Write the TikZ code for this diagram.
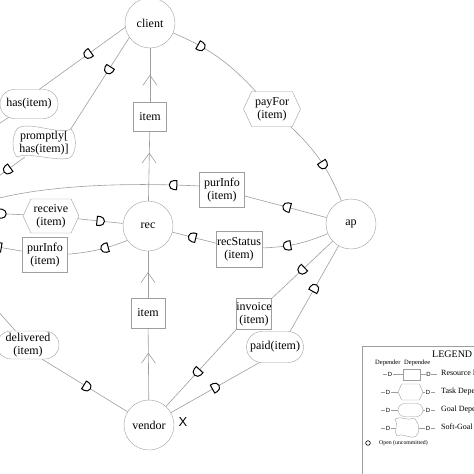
\documentclass[tikz,border=0pt]{standalone}
\usepackage{fontspec}
\setmainfont{Liberation Serif}
\setsansfont{Liberation Sans}
\usetikzlibrary{shapes.misc, shapes.symbols, decorations.markings}

\definecolor{linegray}{gray}{0.62}

\tikzset{
  actor/.style={circle, draw=linegray, minimum size=50pt, inner sep=0pt},
  resrc/.style={rectangle, draw=linegray, align=center, inner xsep=1pt, inner ysep=3pt},
  task/.style={signal, signal to=east and west, signal pointer angle=130, draw=linegray, align=center, inner xsep=1pt, inner ysep=2pt},
  goal/.style={rounded rectangle, draw=linegray, align=center, inner xsep=2pt, inner ysep=2pt},
  soft/.style={align=center, inner sep=2pt},
  link/.style={draw=linegray, line width=0.6pt},
  dm/.pic={\draw[black, line width=1pt, fill=white] (-3pt,-4.5pt) -- (-3pt,4.5pt) -- (0pt,4.5pt) arc[start angle=90, end angle=-90, radius=4.5pt] -- cycle;},
  flow/.pic={\draw[linegray, line width=0.6pt] (-10pt,-7pt) -- (0pt,0pt) -- (-10pt,7pt);},
  dep/.style={postaction={decorate, decoration={markings, mark=at position #1 with {\pic[transform shape]{dm};}}}},
  flw/.style={postaction={decorate, decoration={markings, mark=at position #1 with {\pic[transform shape]{flow};}}}},
  ldee/.style={font=\sffamily\fontsize{6}{6}\selectfont, inner sep=0.4pt, fill=white},
  ltext/.style={font=\fontsize{8}{8}\selectfont, anchor=west, inner sep=0pt},
}

\begin{document}
\begin{tikzpicture}[x=1pt, y=-1pt, font=\fontsize{12}{13}\selectfont]

  \useasboundingbox (0,0) rectangle (474,474);
  \clip (0,0) rectangle (474,474);

  % actors
  \node[actor] (client) at (150,23) {client};
  \node[actor] (rec) at (148,226) {rec};
  \node[actor] (ap) at (351,224) {ap};
  \node[actor] (vendor) at (149,425) {vendor};

  % dependums
  \node[resrc, minimum width=33pt, minimum height=29pt] (itemT) at (150,117) {item};
  \node[resrc, minimum width=34pt, minimum height=30pt] (itemB) at (148,313) {item};
  \node[resrc, minimum width=45pt, minimum height=35pt] (purT) at (222,190) {purInfo\\(item)};
  \node[resrc, minimum width=44pt, minimum height=36pt] (recStat) at (239,249) {recStatus\\(item)};
  \node[resrc, minimum width=45pt, minimum height=35pt] (purL) at (45,255) {purInfo\\(item)};
  \node[resrc, minimum width=34pt, minimum height=31pt, inner xsep=0pt] (invoice) at (254,314) {invoice\\(item)};
  \node[task, minimum width=57pt, minimum height=35pt] (payFor) at (272,109) {payFor\\(item)};
  \node[task, minimum width=56pt, minimum height=34pt] (receive) at (51,216) {receive\\(item)};
  \node[goal, minimum width=62pt, minimum height=29pt] (has) at (29,104) {has(item)};
  \node[goal, minimum width=61pt, minimum height=31pt] (paid) at (275,347) {paid(item)};
  \node[goal, minimum width=60pt, minimum height=28pt, inner ysep=1pt] (delivered) at (28,345) {delivered\\(item)};
  \node[soft] (prompt) at (44,143) {promptly[\\has(item)]};
  \draw[linegray] (prompt.north west) .. controls +(10,-9) and +(-10,7) .. (prompt.north east)
    .. controls +(6,6) and +(6,-6) .. (prompt.south east)
    .. controls +(-10,6) and +(10,-6) .. (prompt.south west)
    .. controls +(-6,-6) and +(-5,6) .. cycle;

  % actors off the left edge
  \coordinate (lHas) at (-12,131);
  \coordinate (lProm) at (-12,184);
  \coordinate (lPur) at (-12,201);
  \coordinate (lRec) at (-14,213);
  \coordinate (lPurL) at (-14,245);
  \coordinate (lDel) at (-12,300);

  % resource flow
  \draw[link, flw=.5] (itemT) -- (client);
  \draw[link, flw=.69] (rec) -- (itemT);
  \draw[link, flw=.65] (vendor) -- (itemB);
  \draw[link, flw=.54] (itemB) -- (rec);

  % dependencies
  \draw[link, dep=.43] (client.190) -- (has.55);
  \draw[link] (has) -- (lHas);
  \draw[link, dep=.35] (client.215) -- (prompt.north east);
  \draw[link, dep=.46] (prompt) -- (lProm);
  \draw[link, dep=.3] (client) to[bend left=12] (payFor);
  \draw[link, dep=.55] (payFor) to[bend left=12] (ap);
  \draw[link, dep=.48] (ap) -- (purT);
  \draw[link, dep=.12] (purT.170) .. controls (120,182) and (40,186) .. (lPur);
  \draw[link, dep=.42] (lRec) -- (receive);
  \draw[link, dep=.49] (receive) -- (rec);
  \draw[link, dep=.38] (rec.215) to[bend left=8] (purL);
  \draw[link, dep=.66] (purL) -- (lPurL);
  \draw[link, dep=.62] (ap) to[bend left=10] (recStat);
  \draw[link, dep=.53] (recStat) -- (rec);
  \draw[link, dep=.5] (ap) -- (invoice.north east);
  \draw[link, dep=.55] (invoice.south west) -- (vendor);
  \draw[link, dep=.5] (vendor) -- (paid.225);
  \draw[link, dep=.5] (paid.46) -- (ap);
  \draw[link] (lDel) -- (delivered);
  \draw[link, dep=.52] (delivered.-45) -- (vendor);
  \node[font=\sffamily\fontsize{13}{13}\selectfont, inner sep=0pt] (crit) at (183,422) {X};

  % legend
  \draw[linegray] (362,346) rectangle (490,490);
  \node[font=\fontsize{10}{10}\selectfont, anchor=west, inner sep=0pt] (legT) at (432,354) {LEGEND};
  \node[font=\fontsize{6.5}{7}\selectfont, anchor=west, inner sep=0pt] (lgDr) at (375,363) {Depender};
  \node[font=\fontsize{6.5}{7}\selectfont, anchor=west, inner sep=0pt] (lgDe) at (404,363) {Dependee};

  \node[resrc, minimum width=17pt, minimum height=11pt, inner sep=0pt] (lgRes) at (411.5,374.5) {};
  \node[task, minimum width=25pt, minimum height=16pt, inner sep=0pt] (lgTask) at (410.5,392) {};
  \node[goal, minimum width=25pt, minimum height=13pt, inner sep=0pt] (lgGoal) at (410.5,410) {};
  \coordinate (lgSoft) at (406,427);
  \draw[linegray] (395,419) .. controls (401,415) and (408,422) .. (414,418)
    .. controls (420,424) and (420,433) .. (416,436)
    .. controls (410,440) and (402,432) .. (397,436)
    .. controls (393,432) and (399,424) .. cycle;

  \draw[link] (383,374.5) -- (lgRes.west) (lgRes.east) -- (437,374.5);
  \draw[link] (381,392) -- (lgTask.west) (lgTask.east) -- (435,392);
  \draw[link] (381,410) -- (lgGoal.west) (lgGoal.east) -- (435,410);
  \draw[link] (381,428) -- (395.5,428) (418.5,428) -- (435,428);
  \node[ldee] (lgD1a) at (390,374.5) {D};
  \node[ldee] (lgD1b) at (428.5,374.5) {D};
  \node[ldee] (lgD2a) at (388,392) {D};
  \node[ldee] (lgD2b) at (428,392) {D};
  \node[ldee] (lgD3a) at (388,410) {D};
  \node[ldee] (lgD3b) at (428,410) {D};
  \node[ldee] (lgD4a) at (388,428) {D};
  \node[ldee] (lgD4b) at (428,428) {D};

  \node[ltext] (lgT1) at (441,374) {Resource Dependency};
  \node[ltext] (lgT2) at (441,392) {Task Dependency};
  \node[ltext] (lgT3) at (441,410) {Goal Dependency};
  \node[ltext] (lgT4) at (441,428) {Soft-Goal Dependency};

  \draw[black, line width=0.6pt] (368,443) circle[radius=2.3pt];
  \node[font=\fontsize{5.8}{6}\selectfont, anchor=west, inner sep=0pt] (lgOpen) at (379,443) {Open (uncommitted)};

\end{tikzpicture}
\end{document}
